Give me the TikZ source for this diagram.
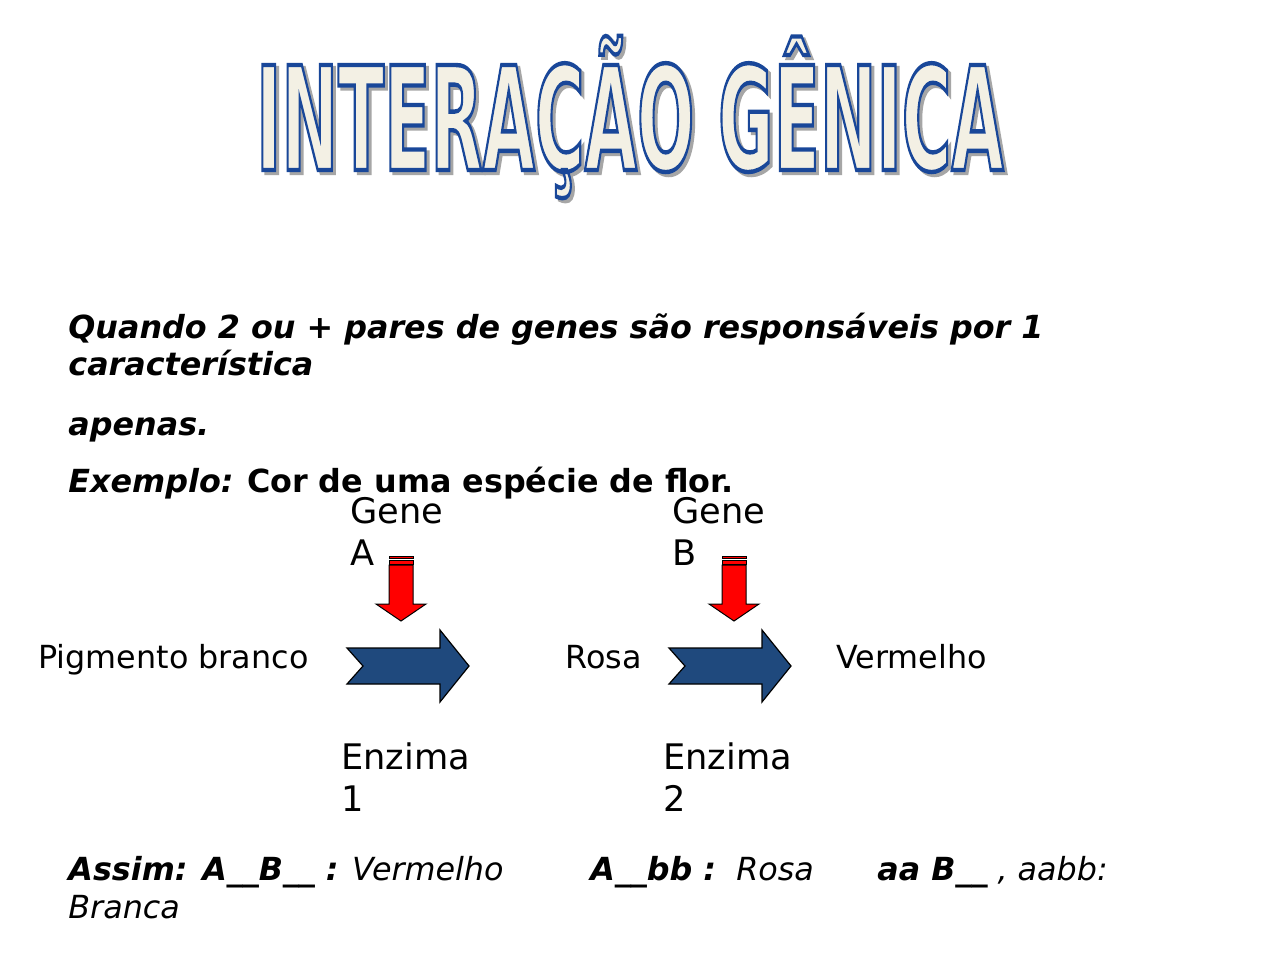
\documentclass[tikz,border=0pt]{standalone}
\usepackage{fontspec}
\setmainfont{DejaVu Sans}[BoldFont={DejaVu Sans Bold},ItalicFont={DejaVu Sans Oblique},BoldItalicFont={DejaVu Sans Bold Oblique}]
\usepackage{graphicx}
\usetikzlibrary{positioning}
\definecolor{titlefill}{RGB}{243,240,228}
\definecolor{titleshade}{RGB}{165,165,165}
\definecolor{enzblue}{RGB}{31,73,125}
\newcommand{\bodyfont}{\fontsize{15.9pt}{19pt}\selectfont}
\newcommand{\labfont}{\fontsize{17.6pt}{21pt}\selectfont}
\newcommand{\bi}[1]{{\bfseries\itshape #1}}
\newcommand{\titletxt}{\scalebox{0.47}[1]{\fontsize{72pt}{80pt}\selectfont\bfseries INTERAÇÃO GÊNICA}}
\newcommand{\strokeon}[1]{\special{pdf:literal direct #1 RG 2.2 w 2 Tr}}
\newcommand{\strokeoff}{\special{pdf:literal direct 0 Tr}}

\begin{document}
\begin{tikzpicture}[x=0.5pt,y=-0.5pt]
    \tikzstyle{txt}=[inner sep=0pt,anchor=base west,font=\bodyfont]
    \tikzstyle{lab}=[inner sep=0pt,anchor=base west,font=\labfont,align=left]
    \tikzstyle{enzarrow}=[fill=enzblue,draw=black,line width=0.6pt,line join=miter]
    \tikzstyle{genearrow}=[fill=red,draw=black,line width=0.5pt]

    \fill[white] (0,0) rectangle (1280,960);
    \useasboundingbox (0,0) rectangle (1280,960);

    % title
    \node(shade) [inner sep=0pt,anchor=base] at (633,173)
        {\color{titleshade}\strokeon{0.65 0.65 0.65}\titletxt\strokeoff};
    \node(title) [inner sep=0pt,anchor=base] at (630,170)
        {\color{titlefill}\strokeon{0.1 0.28 0.6}\titletxt\strokeoff};

    % text
    \node(q1) [txt] at (68,338) {\bi{Quando 2 ou + pares de genes são responsáveis por 1}};
    \node(q2) [txt] at (68,375) {\bi{característica}};
    \node(q3) [txt] at (68,435) {\bi{apenas.}};
    \node(ex) [txt] at (68,492) {\bi{Exemplo:} \bfseries Cor de uma espécie de flor.};

    % pathway
    \node(pb)  [txt] at (38,668)  {Pigmento branco};
    \node(ro)  [txt] at (565,668) {Rosa};
    \node(ve)  [txt] at (836,668) {Vermelho};
    \node(gA)  [lab] at (350,565) {Gene\\A};
    \node(gB)  [lab] at (672,565) {Gene\\B};
    \node(e1)  [lab] at (341,811) {Enzima\\1};
    \node(e2)  [lab] at (663,811) {Enzima\\2};

    % enzyme arrows
    \draw[enzarrow] (347,648) -- (440,648) -- (440,630) -- (469,666) -- (440,702)
        -- (440,684) -- (347,684) -- (363,666) -- cycle;
    \draw[enzarrow] (669,648) -- (762,648) -- (762,630) -- (791,666) -- (762,702)
        -- (762,684) -- (669,684) -- (685,666) -- cycle;

    % gene arrows
    \begin{scope}[shift={(401,621)}]
        \draw[genearrow] (-12,-56) -- (12,-56) -- (12,-17) -- (25,-17) -- (0,0)
            -- (-25,-17) -- (-12,-17) -- cycle;
        \draw[genearrow] (-12,-61) rectangle (12,-57);
        \draw[genearrow] (-12,-65) rectangle (12,-63);
    \end{scope}
    \begin{scope}[shift={(734,621)}]
        \draw[genearrow] (-12,-56) -- (12,-56) -- (12,-17) -- (25,-17) -- (0,0)
            -- (-25,-17) -- (-12,-17) -- cycle;
        \draw[genearrow] (-12,-61) rectangle (12,-57);
        \draw[genearrow] (-12,-65) rectangle (12,-63);
    \end{scope}

    % genotypes
    \node(s1) [txt] at (68,880)  {\bi{Assim: A\_\_B\_\_ :} \itshape Vermelho};
    \node(s2) [txt] at (590,880) {\bi{A\_\_bb :}\ \ \itshape Rosa};
    \node(s3) [txt] at (877,880) {\bi{aa B\_\_} \itshape, aabb:};
    \node(s4) [txt] at (68,918)  {\itshape Branca};

\end{tikzpicture}
\end{document}
